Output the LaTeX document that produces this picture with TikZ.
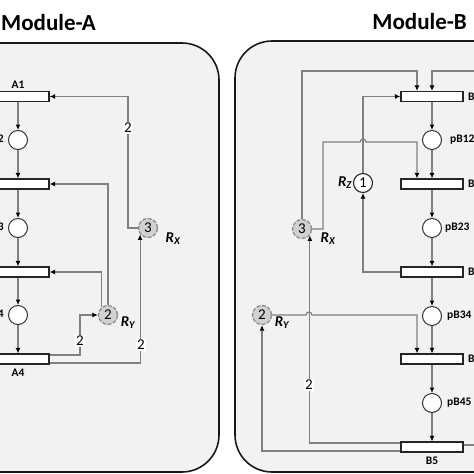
\documentclass[tikz,border=0pt]{standalone}
\usepackage{fontspec}
\setmainfont{Carlito}
\usetikzlibrary{arrows.meta,calc}
\begin{document}
\begin{tikzpicture}[x=1pt,y=-1pt,
  panel/.style={draw=black!90, line width=1.6pt, fill=black!5, rounded corners=37pt},
  trans/.style={rectangle, draw=black!85, line width=1.2pt, fill=white, minimum width=62pt, minimum height=10pt, inner sep=0pt},
  place/.style={circle, draw=black!80, line width=1pt, fill=white, minimum size=19pt, inner sep=0pt},
  res/.style={circle, draw=black!45, dash pattern=on 4pt off 1.5pt, line width=1.3pt, fill=black!18, minimum size=19pt, inner sep=0pt, font=\fontsize{15}{15}\selectfont},
  resz/.style={circle, draw=black!85, line width=1.1pt, fill=white, minimum size=19pt, inner sep=0pt, font=\fontsize{15}{15}\selectfont},
  arc/.style={draw=black!50, line width=1.2pt, -{Latex[length=5.5pt,width=5pt,color=black]}},
  plainline/.style={draw=black!50, line width=1.2pt},
  wt/.style={fill=white, inner sep=1pt, font=\fontsize{15}{15}\selectfont},
  tl/.style={inner sep=1pt, font=\fontsize{11.5}{11.5}\selectfont\bfseries},
  rl/.style={inner sep=0pt, font=\fontsize{15}{15}\selectfont\bfseries\itshape},
  titlestyle/.style={inner sep=0pt, font=\fontsize{23}{23}\selectfont\bfseries}
]
\useasboundingbox (0,0) rectangle (474,474);
\clip (0,0) rectangle (474,474);
\fill[white] (0,0) rectangle (474,474);

% panels
\draw[panel] (-40,43) rectangle (219,472);
\draw[panel] (235,41) rectangle (520,472);
\node[titlestyle, anchor=base west] (ta) at (1,30) {Module-A};
\node[titlestyle, anchor=base east] (tb) at (467,29) {Module-B};

% ---------- Module A ----------
\node[trans] (a1) at (18,96.5) {};
\node[place] (pa12) at (18,140) {};
\node[trans] (a2) at (18,184) {};
\node[place] (pa23) at (18,228) {};
\node[trans] (a3) at (18,272) {};
\node[place] (pa34) at (18,315) {};
\node[trans] (a4) at (18,359) {};

\node[tl, above=1pt] (la1) at (a1.north) {A1};
\node[tl, below=3pt] (la4) at (a4.south) {A4};
\node[tl, anchor=east] (lpa12) at (5,140) {pA12};
\node[tl, anchor=east] (lpa23) at (5,228) {pA23};
\node[tl, anchor=east] (lpa34) at (5,315) {pA34};

\node[res] (rxa) at (148,228) {3};
\node[res] (rya) at (108,315) {2};
\node[rl] (lrxa) at (173,239) {R\textsubscript{X}};
\node[rl] (lrya) at (128,323) {R\textsubscript{Y}};

\draw[arc] (a1) -- (pa12);
\draw[arc] (pa12) -- (a2);
\draw[arc] (a2) -- (pa23);
\draw[arc] (pa23) -- (a3);
\draw[arc] (a3) -- (pa34);
\draw[arc] (pa34) -- (a4);

\coordinate (ka1) at (128,228);
\draw[arc] (rxa.west) -- (ka1) |- (a1.east);
\node[wt] (w1) at (128,128) {2};
\draw[arc] (rya.north) |- (a2.east);
\draw[arc] (rya.129) |- (a3.east);
\coordinate (ka2) at (80,315);
\draw[arc] ($(a4.east)+(0,-4)$) -| (ka2) -- (rya.west);
\node[wt] (w2) at (80,341) {2};
\draw[arc] ($(a4.east)+(0,4)$) -| (rxa.219);
\node[wt] (w3) at (141,345) {2};

% ---------- Module B ----------
\node[trans] (b1) at (432,96.5) {};
\node[place] (pb12) at (432,140) {};
\node[trans] (b2) at (432,184) {};
\node[place] (pb23) at (432,228) {};
\node[trans] (b3) at (432,272) {};
\node[place] (pb34) at (432,316) {};
\node[trans] (b4) at (432,359) {};
\node[place] (pb45) at (432,403) {};
\node[trans] (b5) at (432,447) {};

\node[tl, anchor=west] (lb1) at (467,96.5) {B1};
\node[tl, anchor=west] (lb2) at (467,184) {B2};
\node[tl, anchor=west] (lb3) at (467,272) {B3};
\node[tl, anchor=west] (lb4) at (467,359) {B4};
\node[tl, below=3pt] (lb5) at (b5.south) {B5};
\node[tl, anchor=west] (lpb12) at (449,140) {pB12};
\node[tl, anchor=west] (lpb23) at (444,228) {pB23};
\node[tl, anchor=west] (lpb34) at (446,316) {pB34};
\node[tl, anchor=west] (lpb45) at (446,403) {pB45};

\node[resz] (rzb) at (363,183) {1};
\node[res] (rxb) at (302,229) {3};
\node[res] (ryb) at (262,315) {2};
\node[rl] (lrzb) at (345,183) {R\textsubscript{Z}};
\node[rl] (lrxb) at (328,239) {R\textsubscript{X}};
\node[rl] (lryb) at (282,323) {R\textsubscript{Y}};

\draw[arc] (b1) -- (pb12);
\draw[arc] (pb12) -- (b2);
\draw[arc] (b2) -- (pb23);
\draw[arc] (pb23) -- (b3);
\draw[arc] (b3) -- (pb34);
\draw[arc] (pb34) -- (b4);
\draw[arc] (b4) -- (pb45);
\draw[arc] (pb45) -- (b5);

\coordinate (kb1) at (417,71);
\draw[arc] (rxb.north) |- (kb1) -- (kb1 |- b1.north);
\coordinate (offr) at (490,71);
\draw[arc] (offr) -| (b1.north);
\draw[arc] (rzb.north) |- (b1.west);
\draw[arc] (b3.west) -| (rzb.south);

\coordinate (kb2) at (323,229);
\coordinate (kb3) at (417,142);
\draw[arc] (rxb.east) -- (kb2) -- (323,142) -- (360,142) arc[start angle=180, end angle=0, radius=3pt] -- (kb3) -- (kb3 |- b2.north);

\coordinate (kb4) at (417,315);
\draw[arc] (ryb.east) -- (306,315) arc[start angle=180, end angle=0, radius=3pt] -- (kb4) -- (kb4 |- b4.north);

\draw[arc] ($(b5.west)+(0,4)$) -| (ryb.south);
\draw[arc] ($(b5.west)+(0,-4)$) -| (rxb.-39);
\node[wt] (w4) at (309,385) {2};
\coordinate (offr2) at (490,445);
\draw[plainline] ($(b5.east)+(0,-2)$) -- (offr2);
\end{tikzpicture}
\end{document}
